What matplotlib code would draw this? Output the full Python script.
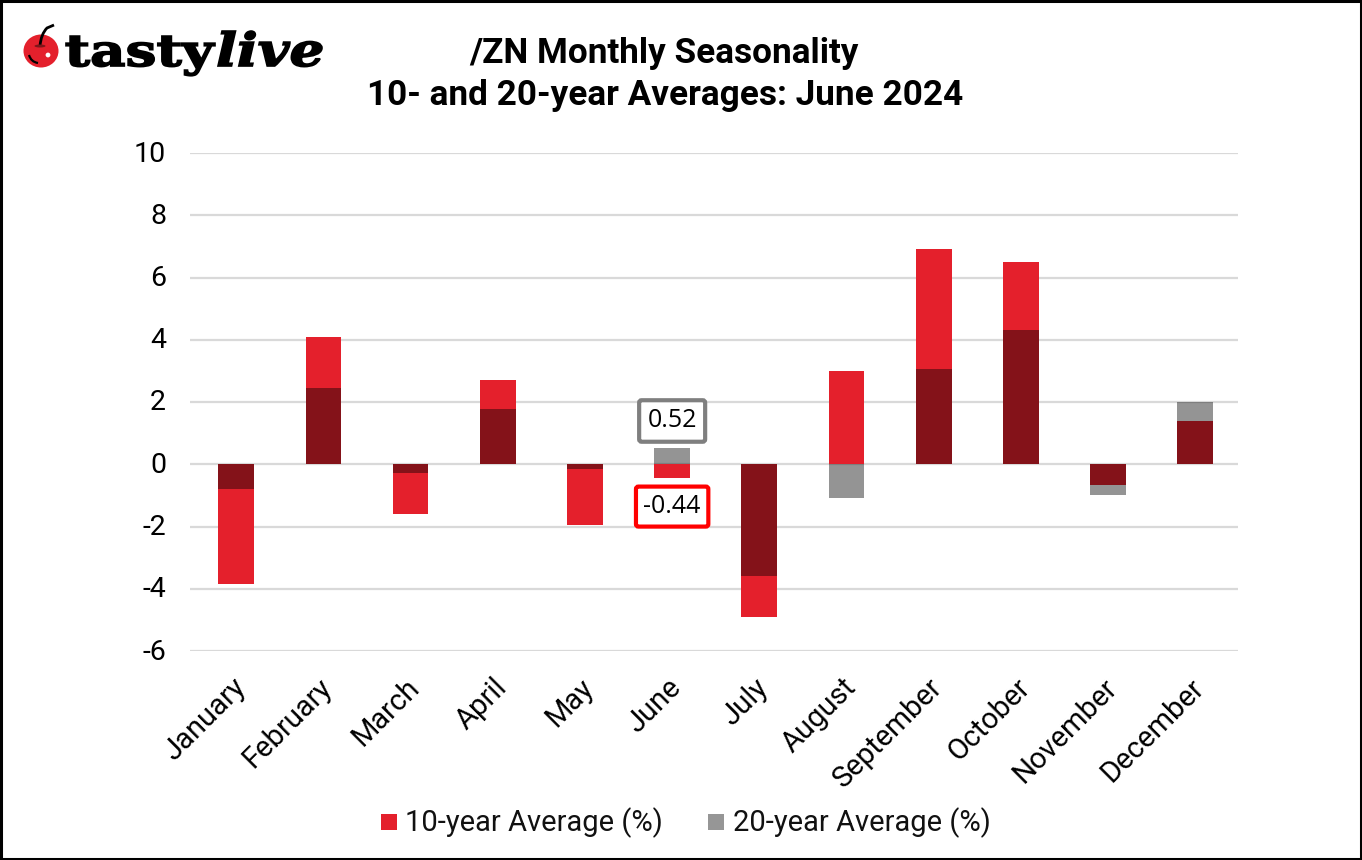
import numpy as np
import matplotlib
matplotlib.use('Agg')
import matplotlib.pyplot as plt
from matplotlib.patches import Circle, Ellipse, Rectangle, PathPatch
from matplotlib.path import Path
from matplotlib.textpath import TextPath
from matplotlib.font_manager import FontProperties
from matplotlib.transforms import Affine2D, ScaledTranslation

plt.rcParams['font.family'] = ['Roboto', 'DejaVu Sans']
plt.rcParams['axes.unicode_minus'] = False

months = ['January', 'February', 'March', 'April', 'May', 'June', 'July',
          'August', 'September', 'October', 'November', 'December']
avg_10y = [-3.85, 4.09, -1.6, 2.7, -1.95, -0.44, -4.9, 3.0, 6.9, 6.5, -0.68, 1.4]
avg_20y = [-0.8, 2.45, -0.28, 1.77, -0.15, 0.52, -3.6, -1.07, 3.05, 4.3, -1.0, 2.0]
y_ticks = [-6, -4, -2, 0, 2, 4, 6, 8, 10]

W, H = 1362, 860
RED = '#e4202c'
GRAY = '#969696'

fig = plt.figure(figsize=(W / 100, H / 100), dpi=100)
ax = fig.add_axes([190 / W, 1 - 651 / H, 1048 / W, 498 / H])

x = np.arange(len(months))
ax.bar(x, avg_10y, width=0.41, color=RED, zorder=3)
# black with alpha gives the gray on white and the dark red over the red bars
ax.bar(x, avg_20y, width=0.41, color='black', alpha=0.42, zorder=4)

ax.set_xlim(-0.53, 11.49)
ax.set_ylim(-6, 10)
ax.set_yticks(y_ticks)
ax.set_xticks(x)
ax.set_xticklabels(months, rotation=45, ha='right', rotation_mode='anchor', fontsize=21)
ax.tick_params(axis='y', length=0, labelsize=20.5, pad=18)
ax.tick_params(axis='x', length=0, pad=16)
ax.grid(axis='y', color='#d9d9d9', lw=1.6, zorder=0)
ax.set_axisbelow(True)
for s in ax.spines.values():
    s.set_visible(False)

# nudge the tick labels by a few pixels
for lab in ax.get_xticklabels():
    lab.set_transform(lab.get_transform() + ScaledTranslation(-5 / 100, 0, fig.dpi_scale_trans))
for lab in ax.get_yticklabels():
    lab.set_transform(lab.get_transform() + ScaledTranslation(1 / 100, 2 / 100, fig.dpi_scale_trans))

# June callouts
ax.text(5, 1.39, '0.52', ha='center', va='center', fontsize=18, family='Open Sans', zorder=6,
        bbox=dict(boxstyle='round,pad=0.33,rounding_size=0.1', fc='white', ec='#7f7f7f', lw=3))
ax.text(5, -1.36, '-0.44', ha='center', va='center', fontsize=18, family='Open Sans', zorder=6,
        bbox=dict(boxstyle='round,pad=0.3,rounding_size=0.1', fc='white', ec='#ff0000', lw=3))

fig.text(664 / W, 1 - 54 / H, '/ZN Monthly Seasonality', ha='center', va='center',
         fontsize=25.3, fontweight='bold')
fig.text(665 / W, 1 - 96 / H, '10- and 20-year Averages: June 2024', ha='center', va='center',
         fontsize=25.3, fontweight='bold')

# legend
leg_y = 1 - 823 / H
fig.patches.append(Rectangle((381 / W, 1 - 830 / H), 16 / W, 16 / H, transform=fig.transFigure, fc=RED))
fig.text(405 / W, leg_y, '10-year Average (%)', va='center', fontsize=21, color='#111111')
fig.patches.append(Rectangle((708 / W, 1 - 830 / H), 16 / W, 16 / H, transform=fig.transFigure, fc=GRAY))
fig.text(733 / W, leg_y, '20-year Average (%)', va='center', fontsize=21, color='#111111')

# logo, drawn in pixel coordinates
logo = fig.add_axes([0, 0, 1, 1], zorder=10)
logo.set_xlim(0, W)
logo.set_ylim(H, 0)
logo.axis('off')
logo.patch.set_alpha(0)


def logo_word(word, x0, x1, base, height, style):
    # stretch the word to its width in the logo, x-height taken from height
    tp = TextPath((0, 0), word, size=100,
                  prop=FontProperties(family='DejaVu Serif', weight='bold', style=style))
    box = tp.get_extents()
    tr = Affine2D().translate(-box.x0, 0).scale((x1 - x0) / box.width, -height / 100).translate(x0, base)
    logo.add_patch(PathPatch(tr.transform_path(tp), fc='black', ec='black', lw=1.2))


logo.add_patch(Ellipse((41, 51), 35, 33, fc=RED, ec='none'))
logo.add_patch(PathPatch(Path([(40, 46), (41, 34), (47, 28), (54, 25)],
                              [Path.MOVETO, Path.CURVE3, Path.CURVE3, Path.LINETO]),
                         fc='none', ec='black', lw=2))
logo.add_patch(Ellipse((40, 46), 11, 3, fc='#7f1519', ec='none'))
logo.add_patch(PathPatch(Path([(29, 55), (31, 62), (38, 63)],
                              [Path.MOVETO, Path.CURVE3, Path.CURVE3]),
                         fc='none', ec='black', lw=1.6))
logo.add_patch(Circle((48, 55), 2.4, fc='white', ec='none'))
logo_word('tasty', 66, 215, 66, 44, 'normal')
logo_word('live', 218, 322, 66, 46, 'italic')

# outer frame
logo.add_patch(Rectangle((1, 1), W - 2, H - 2, fc='none', ec='black', lw=2.2))

fig.savefig('out.png', dpi=100)
